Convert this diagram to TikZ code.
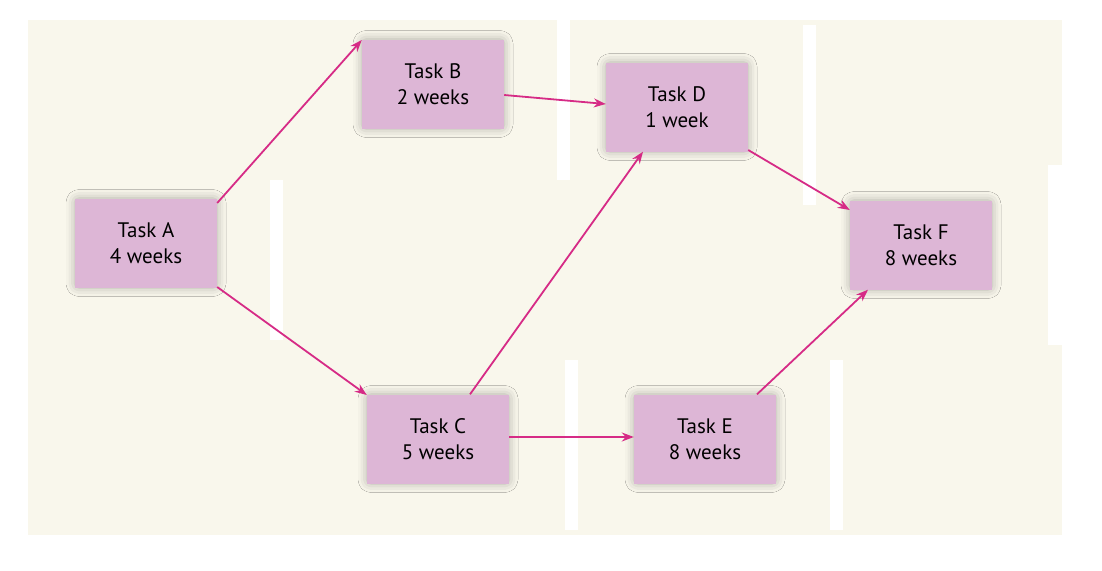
\documentclass[tikz,border=0pt]{standalone}
\usepackage{fontspec}
\setmainfont{PT Sans}
\usetikzlibrary{arrows.meta,shadows.blur}
\begin{document}
\begin{tikzpicture}[x=1pt,y=-1pt,
  task/.style={fill=taskfill,minimum width=142pt,minimum height=89pt,align=center,font=\fontsize{21}{26}\selectfont,inner sep=0pt,
    blur shadow={shadow xshift=0pt,shadow yshift=0pt,shadow blur radius=9pt,shadow opacity=30,shadow blur extra rounding=4pt,shadow scale=1.0}},
  link/.style={draw=arrowc,line width=1.8pt,-{Stealth[length=12pt,width=9pt]}}]
\definecolor{bgc}{HTML}{F9F7EC}
\definecolor{taskfill}{HTML}{DDB6D6}
\definecolor{arrowc}{HTML}{D62B86}
\useasboundingbox (0,0) rectangle (1102,570);
\fill[white] (0,0) rectangle (1102,570);
\fill[bgc] (28,20) rectangle (1062,535);
\fill[white] (557,20) rectangle (570,180);
\fill[white] (270,180) rectangle (283,340);
\fill[white] (803,25) rectangle (816,205);
\fill[white] (1048,165) rectangle (1062,345);
\fill[white] (565,360) rectangle (578,530);
\fill[white] (830,360) rectangle (843,530);
\node[task] (A) at (146,243) {Task A\\4 weeks};
\node[task] (B) at (433,84) {Task B\\2 weeks};
\node[task] (C) at (438,439) {Task C\\5 weeks};
\node[task] (D) at (677,107) {Task D\\1 week};
\node[task] (E) at (705,439) {Task E\\8 weeks};
\node[task] (F) at (921,245) {Task F\\8 weeks};
\draw[link] ([yshift=40pt]A.east) -- ([yshift=44pt]B.west);
\draw[link] ([yshift=-44pt]A.east) -- ([yshift=44pt]C.west);
\draw[link] ([yshift=-11pt]B.east) -- ([yshift=3pt]D.west);
\draw[link] ([xshift=32pt]C.north) -- ([xshift=-34pt]D.south);
\draw[link] ([yshift=2pt]C.east) -- ([yshift=2pt]E.west);
\draw[link] ([yshift=-43pt]D.east) -- ([yshift=35pt]F.west);
\draw[link] ([xshift=52pt]E.north) -- ([xshift=-53pt]F.south);
\end{tikzpicture}
\end{document}
